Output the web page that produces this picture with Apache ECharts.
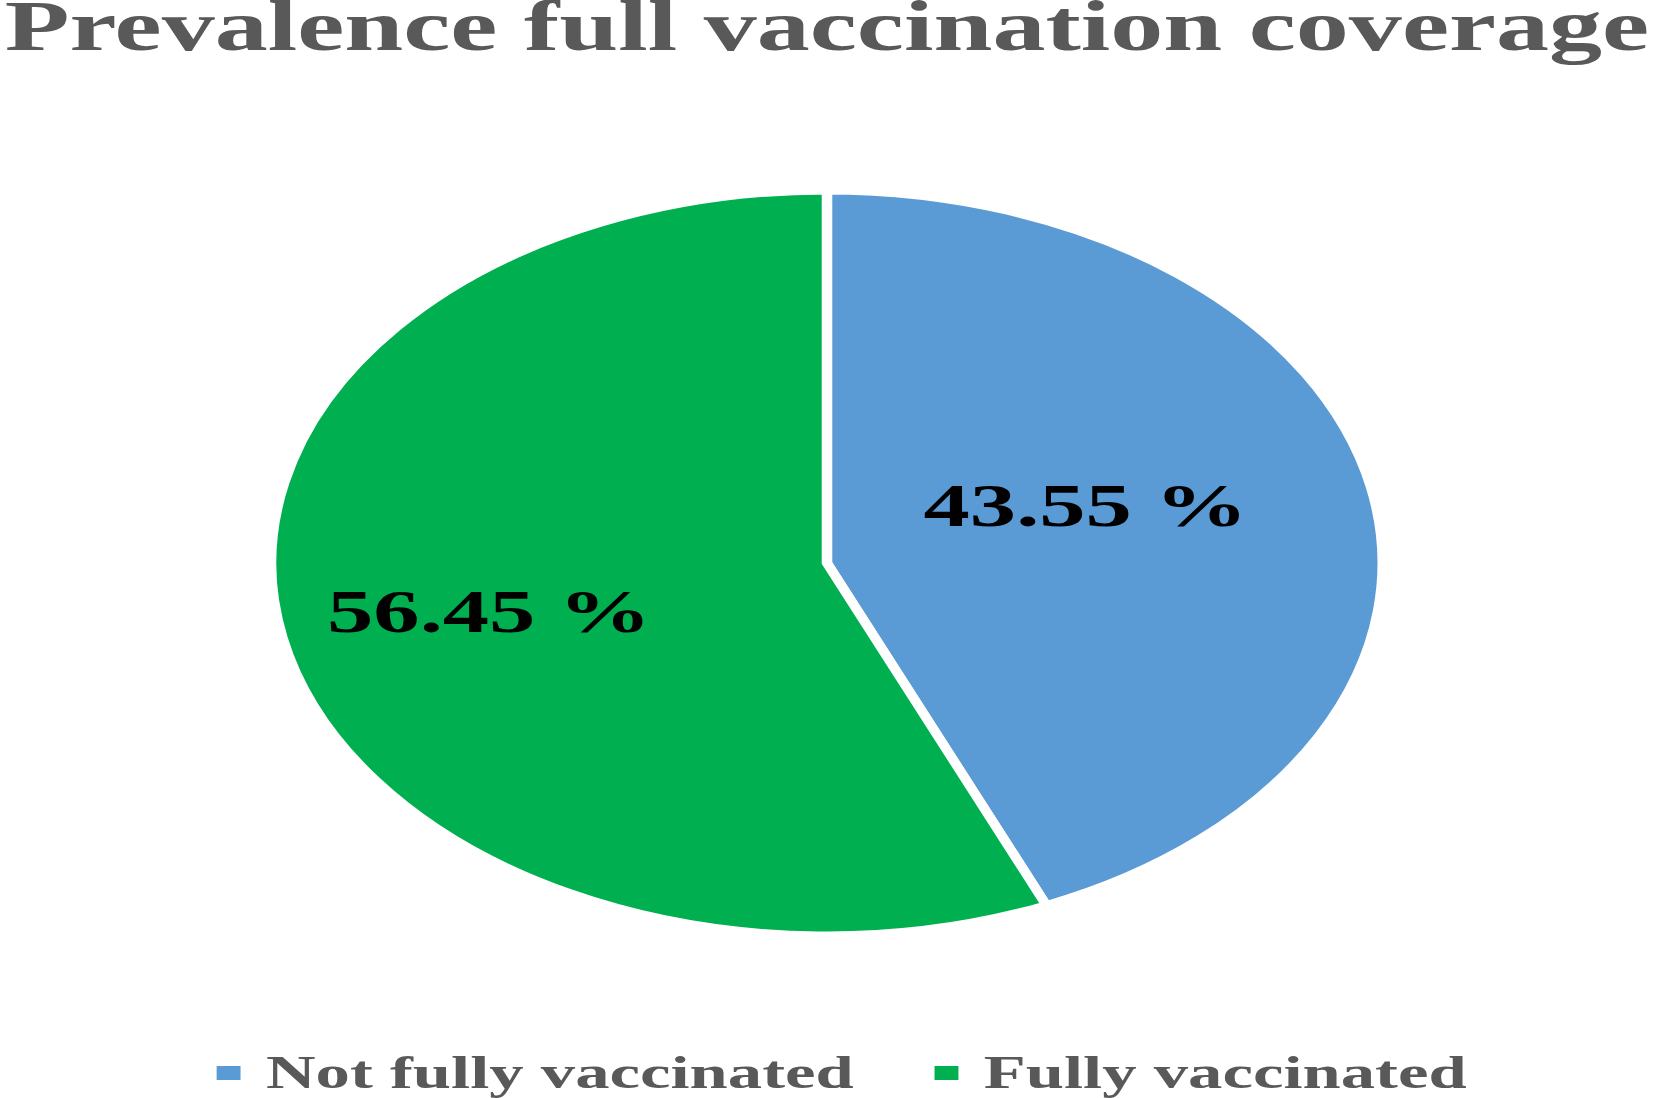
<!DOCTYPE html>
<html>
<head>
<meta charset="utf-8">
<script src="https://cdn.jsdelivr.net/npm/echarts@6/dist/echarts.min.js"></script>
<style>
  html, body { margin: 0; padding: 0; background: #fff; overflow: hidden; }
  /* the original figure is a round pie stretched sideways, text included */
  #chart { width: 1107px; height: 1098px; transform: scaleX(1.494); transform-origin: 0 0; }
</style>
</head>
<body>
<div id="chart"></div>
<script>
// data
var categories = ['Not fully vaccinated', 'Fully vaccinated'];
var values = [43.55, 56.45];
var colors = ['#5B9BD5', '#00B050'];

// small nudges of the inside labels (dx, dy)
var labelShift = [[-12, -20], [-41, 10]];

var serif = "'Times New Roman', 'Liberation Serif', serif";

var pieData = [];
for (var i = 0; i < categories.length; i++) {
    pieData.push({
        name: categories[i],
        value: values[i],
        itemStyle: { color: colors[i] }
    });
}

var myChart = echarts.init(document.getElementById('chart'), null, { renderer: 'svg' });

var option = {
    animation: false,
    title: {
        text: 'Prevalence full vaccination coverage',
        left: 'center',
        top: 0,
        padding: 0,
        textStyle: {
            fontFamily: serif,
            fontWeight: 'bold',
            fontSize: 71,
            lineHeight: 53,
            color: '#595959'
        }
    },
    legend: {
        left: 138,
        top: 1045,
        icon: 'rect',
        itemWidth: 18,
        itemHeight: 16,
        itemGap: 52,
        data: categories,
        textStyle: {
            fontFamily: serif,
            fontWeight: 'bold',
            fontSize: 46,
            color: '#595959',
            padding: [0, 0, 4, 11]
        }
    },
    series: [
        {
            type: 'pie',
            center: [553.5, 563],
            radius: 372,
            startAngle: 90,
            clockwise: true,
            itemStyle: {
                borderColor: '#ffffff',
                borderWidth: 7
            },
            label: {
                show: true,
                position: 'inside',
                color: '#000000',
                fontFamily: serif,
                fontWeight: 'bold',
                fontSize: 62,
                formatter: function (p) {
                    return p.value.toFixed(2) + ' %';
                }
            },
            labelLine: { show: false },
            labelLayout: function (params) {
                var s = labelShift[params.dataIndex];
                return { dx: s[0], dy: s[1] };
            },
            emphasis: { disabled: true },
            data: pieData
        }
    ]
};

myChart.setOption(option);
</script>
</body>
</html>
